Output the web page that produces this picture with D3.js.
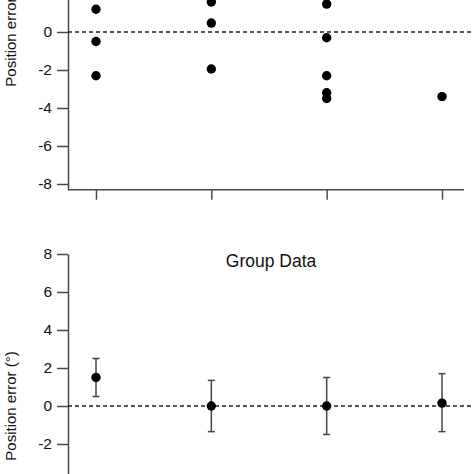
<!DOCTYPE html>
<html>
<head>
<meta charset="utf-8">
<script src="https://cdn.jsdelivr.net/npm/d3@7"></script>
<style>
  body { margin: 0; background: #fff; }
  text { font-family: 'Liberation Sans', Arial, sans-serif; fill: #111; }
</style>
</head>
<body>
<script>
// data
const categories = ['1', '2', '3', '4'];
const yTicks = [-8, -6, -4, -2, 0, 2, 4, 6, 8];

// individual points (top panel), one array per category
const individual = [
  [1.95, 1.2, -0.5, -2.3],
  [1.58, 0.47, -1.95],
  [1.47, -0.3, -2.3, -3.2, -3.5],
  [-3.4]
];

// group means and error bar ends (bottom panel)
const groupMean = [1.5, 0, 0, 0.15];
const groupLow = [0.5, -1.35, -1.5, -1.35];
const groupHigh = [2.5, 1.35, 1.5, 1.7];

const width = 474;
const height = 474;
const axisColor = '#4a4a4a';
const left = 68;
const right = 464;

const svg = d3.select('body').append('svg').attr('width', width).attr('height', height);

const x = d3.scalePoint().domain(categories).range([96, 442]);

const drawPanel = (zeroY, title) => {
  // 19px per unit, zero line at zeroY
  const y = d3.scaleLinear().domain([-8.3, 8]).range([zeroY + 19 * 8.3, zeroY - 19 * 8]);
  const g = svg.append('g');

  // only the ticks that fall inside the window
  const visibleTicks = yTicks.filter((v) => y(v) > 4 && y(v) < height - 4);

  // y axis
  g.append('g')
    .attr('transform', `translate(${left},0)`)
    .call(d3.axisLeft(y).tickValues(visibleTicks).tickSize(11).tickSizeOuter(0).tickPadding(5)
      .tickFormat((d) => String(d)))
    .call((a) => a.select('.domain').attr('stroke', axisColor).attr('stroke-width', 1.5))
    .call((a) => a.selectAll('.tick line').attr('stroke', axisColor).attr('stroke-width', 1.5))
    .call((a) => a.selectAll('.tick text').attr('font-size', 15.5).attr('fill', '#111')
      .attr('font-family', "'Liberation Sans', Arial, sans-serif"));

  // x axis
  g.append('g')
    .attr('transform', `translate(0,${y(-8.3)})`)
    .call(d3.axisBottom(x).tickSize(10).tickSizeOuter(0).tickFormat(''))
    .call((a) => a.select('.domain').attr('d', `M${left},0H${right}`)
      .attr('stroke', axisColor).attr('stroke-width', 1.5))
    .call((a) => a.selectAll('.tick line').attr('stroke', axisColor).attr('stroke-width', 1.5));

  // dashed zero line
  g.append('line')
    .attr('x1', left).attr('x2', 472)
    .attr('y1', y(0)).attr('y2', y(0))
    .attr('stroke', '#222').attr('stroke-width', 1.3)
    .attr('stroke-dasharray', '4,3');

  // y label
  g.append('text')
    .attr('transform', `translate(16,${y(0)}) rotate(-90)`)
    .attr('text-anchor', 'middle')
    .attr('font-size', 15)
    .text('Position error (°)');

  if (title) {
    g.append('text')
      .attr('x', 271).attr('y', y(7.3))
      .attr('text-anchor', 'middle')
      .attr('font-size', 17.5)
      .text(title);
  }
  return { g, y };
};

// top panel: individual data
const topPanel = drawPanel(32, null);
topPanel.g.append('g')
  .selectAll('g')
  .data(individual)
  .join('g')
  .each(function (vals, i) {
    d3.select(this).selectAll('circle')
      .data(vals)
      .join('circle')
      .attr('cx', x(categories[i]))
      .attr('cy', (d) => topPanel.y(d))
      .attr('r', 4.7)
      .attr('fill', '#000');
  });

// bottom panel: group data
const bottomPanel = drawPanel(406, 'Group Data');
const groups = categories.map((c, i) => ({ c, m: groupMean[i], lo: groupLow[i], hi: groupHigh[i] }));
const eb = bottomPanel.g.append('g').selectAll('g').data(groups).join('g');
eb.append('line')
  .attr('x1', (d) => x(d.c)).attr('x2', (d) => x(d.c))
  .attr('y1', (d) => bottomPanel.y(d.lo)).attr('y2', (d) => bottomPanel.y(d.hi))
  .attr('stroke', '#444').attr('stroke-width', 1.5);
eb.selectAll('.cap')
  .data((d) => [d.lo, d.hi].map((v) => ({ c: d.c, v })))
  .join('line')
  .attr('class', 'cap')
  .attr('x1', (d) => x(d.c) - 3.5).attr('x2', (d) => x(d.c) + 3.5)
  .attr('y1', (d) => bottomPanel.y(d.v)).attr('y2', (d) => bottomPanel.y(d.v))
  .attr('stroke', '#444').attr('stroke-width', 1.5);
eb.append('circle')
  .attr('cx', (d) => x(d.c))
  .attr('cy', (d) => bottomPanel.y(d.m))
  .attr('r', 4.7)
  .attr('fill', '#000');
</script>
</body>
</html>
